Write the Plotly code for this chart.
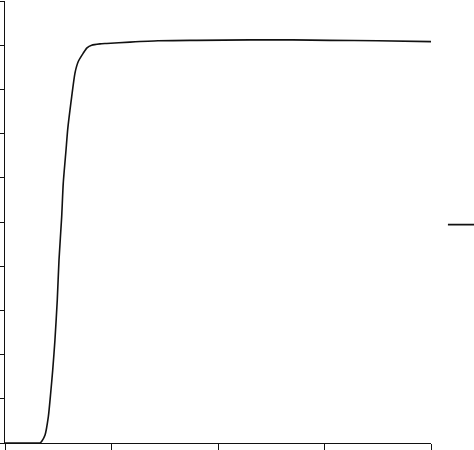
import plotly.graph_objects as go

# Values (x in axis units 0..4, y in axis units 0..10)
x_vals = [0.0, 0.10, 0.20, 0.30, 0.329, 0.347, 0.376, 0.407, 0.429, 0.448, 0.469,
          0.491, 0.507, 0.532, 0.547, 0.573, 0.589, 0.610, 0.626, 0.657, 0.688,
          0.735, 0.770, 0.814, 0.892, 0.955, 1.174, 1.437, 1.80, 2.30, 2.70,
          3.05, 3.50, 4.0]
y_vals = [0.0, 0.0, 0.0, 0.0, 0.0, 0.045, 0.18, 0.595, 1.13, 1.65, 2.33,
          3.24, 4.14, 5.11, 5.88, 6.63, 7.10, 7.53, 7.83, 8.37, 8.63,
          8.82, 8.94, 9.00, 9.03, 9.04, 9.07, 9.10, 9.11, 9.12, 9.12,
          9.11, 9.10, 9.08]
x_ticks = [0, 1, 2, 3, 4]
y_ticks = [0, 1, 2, 3, 4, 5, 6, 7, 8, 9, 10]
series_name = " "

fig = go.Figure()
fig.add_trace(go.Scatter(
    x=x_vals, y=y_vals, mode="lines", name=series_name,
    line=dict(color="#111111", width=1.6, shape="spline", smoothing=0.6),
    showlegend=True,
))

fig.update_layout(
    width=474, height=450,
    margin=dict(l=5, r=43, t=1, b=7, autoexpand=False),
    paper_bgcolor="white", plot_bgcolor="white",
    showlegend=True,
    legend=dict(x=1.028, y=0.494, xanchor="left", yanchor="middle",
                bgcolor="rgba(0,0,0,0)", font=dict(size=12, color="#111111")),
)
fig.update_xaxes(
    range=[0, 4], tickvals=x_ticks, showticklabels=False, automargin=False,
    ticks="outside", ticklen=7, tickwidth=1.3, tickcolor="#111111",
    showline=True, linecolor="#111111", linewidth=1.3,
    showgrid=False, zeroline=False,
)
fig.update_yaxes(
    range=[0, 10], tickvals=y_ticks, showticklabels=False, automargin=False,
    ticks="outside", ticklen=5, tickwidth=1.3, tickcolor="#111111",
    showline=True, linecolor="#111111", linewidth=1.3,
    showgrid=False, zeroline=False,
)

fig.write_html(
    "out.html",
    config={"displayModeBar": False},
    post_script="document.body.style.margin='0px';document.body.style.overflow='hidden';",
)
